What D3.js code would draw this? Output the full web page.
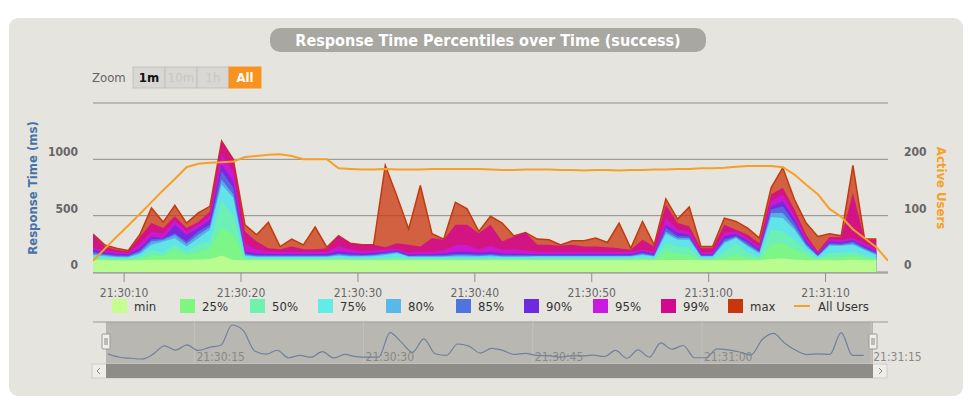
<!DOCTYPE html>
<html><head><meta charset="utf-8">
<script src="https://cdn.jsdelivr.net/npm/d3@7"></script>
<style>
body{margin:0;background:#fff;}
svg{display:block;font-family:"DejaVu Sans Condensed","DejaVu Sans",sans-serif;font-stretch:condensed;}
</style></head>
<body><svg id="c" width="977" height="411"></svg>
<script>
const seriesNames = ["min","25%","50%","75%","80%","85%","90%","95%","99%","max"];
const seriesColors = ["#c4fd90","#7ff77f","#6ff2ad","#61ede6","#58b8ea","#4f74de","#6d2ae0","#c91ae0","#d4088f","#c9360c"];
const pMin = [108,105,102,102,105,108,108,110,108,110,115,146,107,105,105,105,105,105,105,105,105,105,105,105,105,105,105,105,105,105,105,105,105,105,105,105,105,105,105,105,105,105,105,105,105,105,105,105,105,107,107,107,105,105,105,105,105,105,115,120,110,105,105,105,105,108,105,105];
const p25 = [118,112,110,110,115,150,140,196,150,170,211,390,330,115,112,112,112,112,112,112,112,115,112,112,112,112,115,112,112,112,112,112,112,112,112,112,112,112,112,112,112,112,112,112,112,112,112,115,112,182,160,150,112,112,130,150,130,115,241,256,200,150,112,130,130,150,125,112];
const p50 = [130,122,118,118,135,196,175,241,181,241,271,628,509,125,120,120,120,120,120,120,120,125,120,120,120,125,130,120,120,120,120,120,120,120,120,120,120,120,120,120,120,120,120,120,120,120,120,128,120,256,226,215,120,120,180,256,170,130,375,360,286,190,120,170,170,180,150,125];
const p75 = [152,140,132,130,160,241,271,300,226,300,375,777,658,145,135,135,135,135,135,135,135,145,138,138,140,150,167,135,135,135,135,138,138,138,140,135,135,135,137,137,137,137,137,137,137,137,137,152,137,339,286,286,137,137,256,301,226,165,488,479,375,226,137,232,232,241,196,150];
const p80 = [165,150,140,138,175,271,285,330,250,330,400,821,687,155,140,140,140,140,140,140,140,155,145,145,148,160,175,140,140,140,140,148,148,145,150,140,140,140,142,142,142,142,142,142,142,142,142,160,142,360,301,300,142,142,270,310,240,175,524,524,400,240,142,245,240,255,205,160];
const p85 = [180,160,148,145,190,290,295,345,270,360,420,896,747,165,150,148,148,148,148,148,148,165,155,152,155,170,180,145,148,148,150,160,160,155,160,150,150,150,148,148,148,148,148,148,148,148,148,170,148,390,320,315,148,148,290,320,260,185,554,583,435,255,148,255,250,270,215,170];
const p90 = [200,175,160,155,210,315,300,420,330,390,464,955,806,180,165,160,160,160,160,160,160,185,170,165,170,180,190,155,160,160,165,180,180,170,180,165,165,160,160,160,160,160,160,160,160,160,160,185,160,420,350,330,158,158,320,340,280,200,583,628,470,275,158,270,265,285,230,185];
const p95 = [211,190,175,170,250,360,340,460,360,420,500,1044,896,250,200,185,180,180,180,180,180,230,200,185,190,200,205,170,180,180,190,240,240,200,230,200,200,190,180,180,180,180,180,180,180,180,180,200,180,479,375,360,175,175,350,360,300,220,628,688,500,300,165,290,285,301,250,200];
const p99 = [336,226,197,182,310,434,390,494,390,443,538,1163,1000,360,271,211,203,226,203,203,211,322,256,241,241,220,256,241,226,301,286,420,420,345,420,271,316,351,241,241,232,241,226,226,220,211,197,286,226,598,435,405,211,211,420,375,331,256,688,747,554,330,182,310,310,702,286,286];
const pMax = [336,241,211,190,330,568,443,592,434,524,583,1163,1000,419,330,440,226,292,241,399,220,322,256,241,241,946,673,381,768,339,292,619,560,360,494,435,320,351,292,286,241,277,277,301,262,435,211,449,241,649,470,577,226,226,479,449,390,301,747,926,643,435,315,339,321,946,292,292];
const activeUsers = [20,41,62,82,103,124,145,165,186,192,194,195,196,204,206,208,209,206,200,200,200,184,183,182,182,183,182,182,182,183,183,183,183,183,182,181,181,182,182,182,181,181,180,181,181,180,181,181,182,182,183,183,184,184,185,187,188,188,188,186,173,155,138,112,98,76,60,44,20];
const leftTicks = [0,500,1000,1500];
const rightTicks = [0,100,200,300];
const zoomButtons = ["1m","10m","1h","All"];

const t0 = new Date(2000,0,1,21,30,7,340);
const timeAt = k => new Date(t0.getTime() + k*1000);
const pct = [pMin,p25,p50,p75,p80,p85,p90,p95,p99,pMax];

const svg = d3.select("#c");
svg.append("rect").attr("x",9).attr("y",18).attr("width",954).attr("height",378).attr("rx",9).attr("fill","#e6e4df");

// title
const tg = svg.append("g");
tg.append("rect").attr("x",270).attr("y",28).attr("width",436).attr("height",24).attr("rx",10).attr("fill","#a8a7a2");
tg.append("text").attr("x",488).attr("y",46).attr("text-anchor","middle").attr("fill","#fff")
  .attr("font-size",16).attr("font-weight","bold").text("Response Time Percentiles over Time (success)");

// zoom buttons
svg.append("text").attr("x",92).attr("y",82).attr("font-size",13).attr("fill","#666").text("Zoom");
zoomButtons.forEach((b,i)=>{
  const x=133+i*32;
  const last=i===3, first=i===0;
  svg.append("rect").attr("x",x).attr("y",67).attr("width",32).attr("height",21)
    .attr("fill",last?"#f7931e":"#d8d7d3").attr("stroke",last?"#f7931e":"#c2c1bd");
  svg.append("text").attr("x",x+16).attr("y",82).attr("text-anchor","middle").attr("font-size",13)
    .attr("font-weight",(first||last)?"bold":"normal")
    .attr("fill",last?"#fff":first?"#111":"#c8c7c3").text(b);
});

const x = d3.scaleTime().domain([t0, timeAt(68)]).range([93,888]);
const y = d3.scaleLinear().domain([0,1500]).range([272,103]);
const yU = d3.scaleLinear().domain([0,300]).range([272,103]);

// grid
leftTicks.forEach(v=>{
  svg.append("line").attr("x1",93).attr("x2",888).attr("y1",y(v)).attr("y2",y(v)).attr("stroke","#8f8e8a").attr("stroke-width",1);
  if(v<1500) svg.append("text").attr("x",78).attr("y",y(v)-3).attr("text-anchor","end").attr("font-size",12).attr("font-weight","bold").attr("fill","#666").text(v);
});
rightTicks.forEach(v=>{
  if(v<300) svg.append("text").attr("x",904).attr("y",yU(v)-3).attr("font-size",12).attr("font-weight","bold").attr("fill","#666").text(v);
});

svg.append("defs").append("clipPath").attr("id","pc").append("rect").attr("x",93).attr("y",90).attr("width",795).attr("height",183);
const pg = svg.append("g").attr("clip-path","url(#pc)");
for(let s=9;s>=0;s--){
  const vals=pct[s];
  const area=d3.area().x((d,i)=>x(timeAt(i))).y0(y(0)).y1(d=>y(d));
  pg.append("path").datum(vals).attr("d",area).attr("fill",seriesColors[s]).attr("fill-opacity",s===9?0.75:0.85);
  if(s===9){
    pg.append("path").datum(vals).attr("d",d3.line().x((d,i)=>x(timeAt(i))).y(d=>y(d))).attr("fill","none").attr("stroke","#c23a0e").attr("stroke-width",1.5);
  }
}
pg.append("path").datum(activeUsers).attr("d",d3.line().x((d,i)=>x(timeAt(i))).y(d=>yU(d)))
  .attr("fill","none").attr("stroke","#f5a026").attr("stroke-width",2);

// x axis
svg.append("line").attr("x1",93).attr("x2",888).attr("y1",273).attr("y2",273).attr("stroke","#8f8e8a");
const xt = x.ticks(d3.timeSecond.every(10));
const fmt = d3.timeFormat("%H:%M:%S");
xt.forEach(t=>{
  svg.append("line").attr("x1",x(t)).attr("x2",x(t)).attr("y1",273).attr("y2",282).attr("stroke","#8f8e8a");
  svg.append("text").attr("x",x(t)).attr("y",297).attr("text-anchor","middle").attr("font-size",12).attr("fill","#666").text(fmt(t));
});

// axis titles
svg.append("text").attr("transform","translate(37,188) rotate(-90)").attr("text-anchor","middle").attr("font-size",13).attr("font-weight","bold").attr("fill","#4572A7").text("Response Time (ms)");
svg.append("text").attr("transform","translate(937,188) rotate(90)").attr("text-anchor","middle").attr("font-size",13).attr("font-weight","bold").attr("fill","#f5a026").text("Active Users");

// legend
const legX=[112,180,250,318,386,456,524,593,661,728];
seriesNames.forEach((n,i)=>{
  svg.append("rect").attr("x",legX[i]).attr("y",299).attr("width",15).attr("height",14).attr("fill",seriesColors[i]);
  svg.append("text").attr("x",legX[i]+22).attr("y",311).attr("font-size",13).attr("fill","#333").text(n);
});
svg.append("line").attr("x1",794).attr("x2",810).attr("y1",306).attr("y2",306).attr("stroke","#f5a026").attr("stroke-width",2);
svg.append("text").attr("x",818).attr("y",311).attr("font-size",13).attr("fill","#333").text("All Users");

// navigator
const nx = d3.scaleTime().domain([t0, timeAt(68)]).range([108,875]);
const ny = d3.scaleLinear().domain([d3.min(pMax), d3.max(pMax)]).range([359,325]);
svg.append("rect").attr("x",106).attr("y",322).attr("width",767).attr("height",42).attr("fill","#b9b7b2");
svg.append("line").attr("x1",93).attr("x2",888).attr("y1",322).attr("y2",322).attr("stroke","#999");
nx.ticks(d3.timeSecond.every(15)).forEach(t=>{
  svg.append("line").attr("x1",nx(t)).attr("x2",nx(t)).attr("y1",322).attr("y2",364).attr("stroke","#c9c7c2").attr("stroke-width",0.7);
  svg.append("text").attr("x",nx(t)+2).attr("y",361).attr("font-size",12).attr("fill","#8a8985").text(fmt(t));
});
svg.append("path").datum(pMax).attr("d",d3.line().curve(d3.curveMonotoneX).x((d,i)=>nx(timeAt(i))).y(d=>ny(d)))
  .attr("fill","none").attr("stroke","#6f819b").attr("stroke-width",1.2);
[106,873].forEach(hx=>{
  svg.append("rect").attr("x",hx-4).attr("y",334).attr("width",8).attr("height",15).attr("fill","#f0efeb").attr("stroke","#999").attr("rx",1);
  svg.append("line").attr("x1",hx-1).attr("x2",hx-1).attr("y1",338).attr("y2",345).attr("stroke","#888");
  svg.append("line").attr("x1",hx+1).attr("x2",hx+1).attr("y1",338).attr("y2",345).attr("stroke","#888");
});
// scrollbar
svg.append("rect").attr("x",92).attr("y",364).attr("width",795).attr("height",14).attr("fill","#eeede9").attr("stroke","#ccc");
svg.append("rect").attr("x",106).attr("y",364).attr("width",767).attr("height",14).attr("fill","#8f8d89");
svg.append("path").attr("d","M100,368 L97,371 L100,374").attr("fill","none").attr("stroke","#888");
svg.append("path").attr("d","M879,368 L882,371 L879,374").attr("fill","none").attr("stroke","#888");
</script></body></html>
